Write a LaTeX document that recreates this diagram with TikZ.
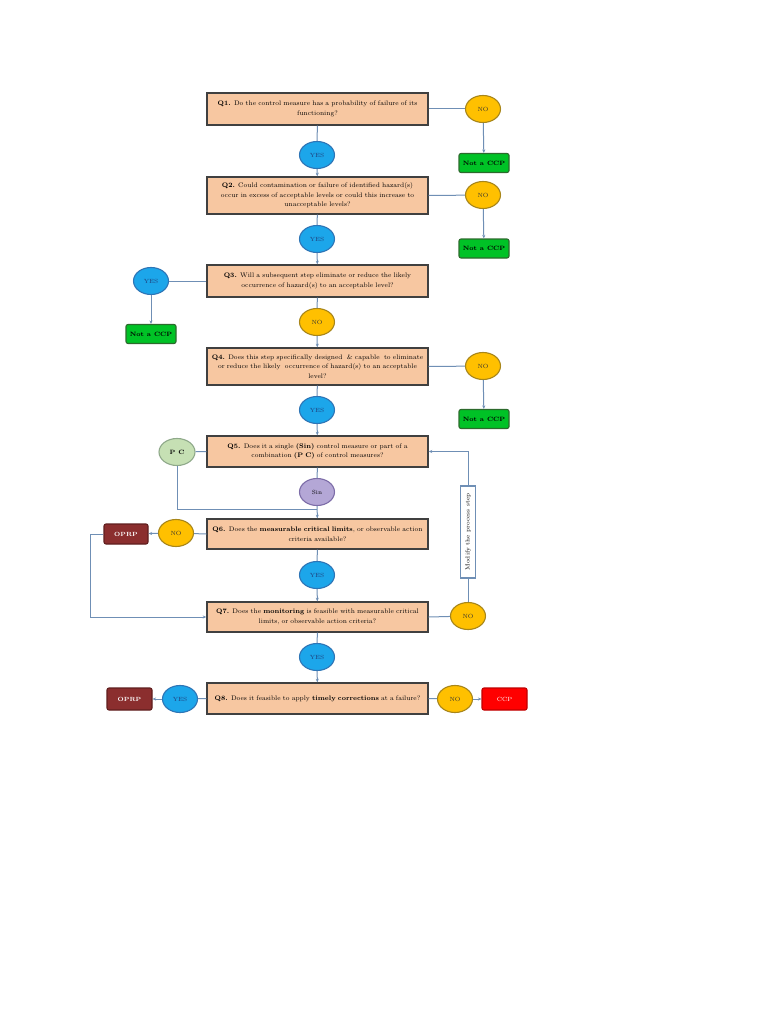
\documentclass[tikz,border=0pt]{standalone}
\usetikzlibrary{arrows.meta,shapes.geometric}
\definecolor{peach}{HTML}{F7C7A1}
\definecolor{qborder}{HTML}{404040}
\definecolor{yesfill}{HTML}{1CA6EA}
\definecolor{yesborder}{HTML}{2E75B6}
\definecolor{nofill}{HTML}{FFC000}
\definecolor{noborder}{HTML}{A8861A}
\definecolor{grfill}{HTML}{00C226}
\definecolor{grborder}{HTML}{2D6A2D}
\definecolor{pcfill}{HTML}{C6E0B4}
\definecolor{pcborder}{HTML}{8FA98A}
\definecolor{sinfill}{HTML}{B4A7D6}
\definecolor{sinborder}{HTML}{7D6DA8}
\definecolor{oprpfill}{HTML}{8B2E2E}
\definecolor{oprpborder}{HTML}{5F1E1E}
\definecolor{ccpfill}{HTML}{FF0000}
\definecolor{ccpborder}{HTML}{C00000}
\definecolor{conn}{HTML}{6F8FB5}
\definecolor{yestext}{HTML}{1F3D7A}
\begin{document}
\begin{tikzpicture}[x=1pt,y=-1pt,
  qbox/.style={draw=qborder,fill=peach,line width=1.4pt,minimum width=221pt,text width=219pt,align=center,inner sep=0.5pt,font=\fontsize{6.6}{9.5}\selectfont},
  oval/.style={ellipse,line width=1.1pt,minimum width=35pt,minimum height=27pt,inner sep=0pt,font=\fontsize{6}{6.5}\selectfont},
  yesn/.style={oval,draw=yesborder,fill=yesfill,text=yestext},
  non/.style={oval,draw=noborder,fill=nofill,text=black!80},
  notccp/.style={draw=grborder,fill=grfill,line width=1.1pt,rounded corners=2pt,minimum width=50pt,minimum height=19pt,inner sep=0pt,font=\bfseries\fontsize{6.2}{7}\selectfont},
  oprp/.style={draw=oprpborder,fill=oprpfill,text=white,line width=1.1pt,rounded corners=2pt,minimum width=44pt,minimum height=20pt,inner sep=0pt,font=\bfseries\fontsize{6}{7}\selectfont},
  line/.style={draw=conn,line width=1pt},
  arr/.style={line,-{Stealth[length=3.5pt,width=3pt]}}
]
\useasboundingbox (0,0) rectangle (768,1024);
\fill[white] (0,0) rectangle (768,1024);

% question boxes
\node[qbox,minimum height=32pt] (q1) at (317.5,109) {\textbf{Q1.} Do the control measure has a probability of failure of its\\ functioning?};
\node[qbox,minimum height=37pt] (q2) at (317.5,195.5) {\textbf{Q2.} Could contamination or failure of identified hazard(s)\\ occur in excess of acceptable levels or could this increase to\\ unacceptable levels?};
\node[qbox,minimum height=32pt] (q3) at (317.5,281) {\textbf{Q3.} Will a subsequent step eliminate or reduce the likely\\ occurrence of hazard(s) to an acceptable level?};
\node[qbox,minimum height=37pt] (q4) at (317.5,366.5) {\textbf{Q4.} Does this step specifically designed \ \& capable \ to eliminate\\ or reduce the likely \ occurrence of hazard(s) to an acceptable\\ level?};
\node[qbox,minimum height=31pt] (q5) at (317.5,451.5) {\textbf{Q5.} Does it a single \textbf{(Sin)} control measure or part of a\\ combination \textbf{(P C)} of control measures?};
\node[qbox,minimum height=30pt] (q6) at (317.5,534) {\textbf{Q6.} Does the \textbf{measurable critical limits}, or observable action\\ criteria available?};
\node[qbox,minimum height=30pt] (q7) at (317.5,617) {\textbf{Q7.} Does the \textbf{monitoring} is feasible with measurable critical\\ limits, or observable action criteria?};
\node[qbox,minimum height=31pt] (q8) at (317.5,698.5) {\textbf{Q8.} Does it feasible to apply \textbf{timely corrections} at a failure?};

% answers
\node[non] (n1) at (483,109) {NO};
\node[notccp] (nc1) at (484,163) {Not a CCP};
\node[yesn] (y1) at (317,155) {YES};
\node[non] (n2) at (483,195) {NO};
\node[notccp] (nc2) at (484,248.5) {Not a CCP};
\node[yesn] (y2) at (317,239) {YES};
\node[yesn] (y3) at (151,281) {YES};
\node[notccp] (nc3) at (151,334) {Not a CCP};
\node[non] (n3) at (317,322) {NO};
\node[non] (n4) at (483,366) {NO};
\node[notccp] (nc4) at (484,419) {Not a CCP};
\node[yesn] (y4) at (317,410) {YES};
\node[oval,draw=pcborder,fill=pcfill,minimum width=36pt,minimum height=27pt,font=\bfseries\fontsize{6.2}{7}\selectfont] (pc) at (177,452) {P C};
\node[oval,draw=sinborder,fill=sinfill] (sin) at (317,492) {Sin};
\node[non] (n6) at (176,533) {NO};
\node[oprp] (o1) at (126,534) {OPRP};
\node[yesn] (y6) at (317,575) {YES};
\node[non] (n7) at (468,616) {NO};
\node[draw=conn,fill=white,line width=1.1pt,rotate=90,minimum width=92pt,minimum height=15pt,inner sep=0pt,font=\fontsize{6}{7}\selectfont] (mod) at (468,532) {Modify the process step};
\node[yesn] (y7) at (317,657) {YES};
\node[yesn] (y8) at (180,699) {YES};
\node[oprp,minimum width=45pt,minimum height=22pt] (o2) at (129.5,699) {OPRP};
\node[non] (n8) at (455,699) {NO};
\node[draw=ccpborder,fill=ccpfill,text=white,line width=1.1pt,rounded corners=2pt,minimum width=45pt,minimum height=22pt,inner sep=0pt,font=\fontsize{6}{7}\selectfont] (ccp) at (504.5,699) {CCP};

\coordinate (j) at (317,509);
\coordinate (lft) at (90,534);

% connectors
\draw[line] (q1.east) -- (n1);
\draw[arr] (n1) -- (nc1);
\draw[line] (q1) -- (y1);
\draw[arr] (y1) -- (q2);
\draw[line] (q2.east) -- (n2);
\draw[arr] (n2) -- (nc2);
\draw[line] (q2) -- (y2);
\draw[arr] (y2) -- (q3);
\draw[line] (q3.west) -- (y3);
\draw[arr] (y3) -- (nc3);
\draw[line] (q3) -- (n3);
\draw[arr] (n3) -- (q4);
\draw[line] (q4.east) -- (n4);
\draw[arr] (n4) -- (nc4);
\draw[line] (q4) -- (y4);
\draw[arr] (y4) -- (q5);
\draw[line] (q5.west) -- (pc);
\draw[line] (q5) -- (sin);
\draw[arr] (sin) -- (q6);
\draw[line] (pc) -- (pc |- j) -- (j);
\draw[line] (q6.west) -- (n6);
\draw[arr] (n6) -- (o1);
\draw[arr] (o1.west) -- (lft) |- (q7.west);
\draw[line] (q6) -- (y6);
\draw[arr] (y6) -- (q7);
\draw[line] (q7.east) -- (n7);
\draw[line] (n7) -- (mod);
\draw[arr] (mod) |- (q5.east);
\draw[line] (q7) -- (y7);
\draw[arr] (y7) -- (q8);
\draw[line] (q8.west) -- (y8);
\draw[arr] (y8) -- (o2);
\draw[line] (q8.east) -- (n8);
\draw[arr] (n8) -- (ccp);
\end{tikzpicture}
\end{document}
